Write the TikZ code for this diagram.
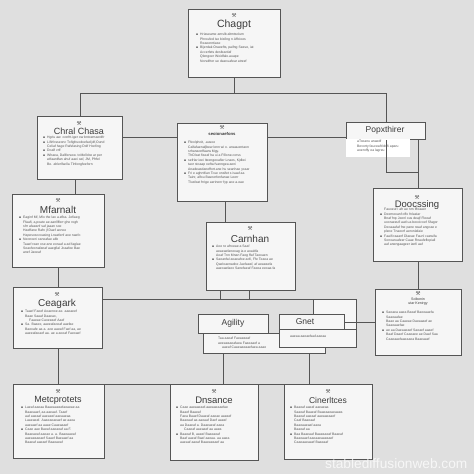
\documentclass[tikz,border=0pt]{standalone}
\usepackage{fontspec}
\setmainfont{Liberation Sans}
\newfontfamily\symf{DejaVu Sans}
\usetikzlibrary{calc}
\definecolor{bgc}{HTML}{DFDFDF}
\definecolor{boxc}{HTML}{F6F6F6}
\definecolor{edgec}{HTML}{555555}
\definecolor{txtc}{HTML}{3C3C3C}
\definecolor{smallc}{HTML}{555555}
\newcommand\bul{\makebox[4pt][l]{\symf\fontsize{3}{3}\selectfont ▪}}
\newcommand\ind{\hspace*{4pt}}
\newcommand\bx[5]{\node[box, minimum width=#4pt, minimum height=#5pt] (#1) at (#2,#3) {};}
\tikzset{
 box/.style={draw=edgec, fill=boxc, line width=1pt, inner sep=0pt, anchor=north west},
 ttl/.style={text=txtc, inner sep=0pt, font=\fontsize{#1}{#1}\selectfont},
 body/.style={text=smallc, inner sep=0pt, anchor=north west, align=left, font=\fontsize{3.4}{4.4}\selectfont},
 icon/.style={text=smallc, inner sep=0pt, font=\symf\fontsize{5.5}{5.5}\selectfont},
 conn/.style={draw=edgec, line width=1pt},
}
\begin{document}
\begin{tikzpicture}[x=1pt,y=-1pt]
\fill[bgc] (0,0) rectangle (474,474);
\useasboundingbox (0,0) rectangle (474,474);

% boxes
\bx{chagpt}{188}{9}{92}{68}
\bx{chral}{37}{116}{85}{63}
\bx{mid}{177}{123}{90}{78}
\bx{popx}{346}{122}{79}{17}
\node[fill=white, inner sep=0pt, anchor=north west, minimum width=64pt, minimum height=18pt] (popxt) at (346,139) {};
\bx{dooc}{373}{188}{89}{73}
\bx{mfar}{12}{194}{92}{73}
\bx{carn}{206}{222}{89}{68}
\bx{ceag}{13}{287}{89}{61}
\bx{rbox}{375}{289}{86}{66}
\bx{back}{313}{299}{43}{48}
\bx{agt}{203}{333}{122}{20}
\bx{agil}{198}{314}{70}{19}
\bx{gnt}{279}{329}{77}{18}
\bx{gnet}{279}{314}{65}{15}
\bx{metc}{13}{384}{91}{74}
\bx{dns}{170}{384}{88}{76}
\bx{cin}{284}{384}{88}{75}

% connectors
\coordinate (h137) at (0,137);
\coordinate (h299) at (0,299);
\draw[conn] (chagpt.south) -- ++(0,16);
\draw[conn] (chral.north) -- ++(0,-23) -| (popx.north);
\draw[conn] (chral.east |- h137) -- (mid.west |- h137);
\draw[conn] (mid.east |- h137) -- (popx.west |- h137);
\draw[conn] ([xshift=3pt]mid.south) -- ([xshift=3pt]mid.south |- carn.north);
\draw[conn] ([xshift=-5pt]chral.south) -- ([xshift=-5pt]chral.south |- mfar.north);
\draw[conn] (mfar.south) -- (mfar.south |- ceag.north);
\draw[conn] (ceag.south) -- (ceag.south |- metc.north);
\draw[conn] (popx.south) -- ++(0,32) -| (dooc.north);
\draw[conn] (dooc.north) -- (dooc.north |- popx.south);
\draw[conn] (dooc.south) -- (dooc.south |- rbox.north);
\draw[conn] ([xshift=-30.5pt]carn.south) -- ([xshift=-30.5pt]carn.south |- h299);
\draw[conn] ([xshift=-1.5pt]carn.south) -- ([xshift=-1.5pt]carn.south |- h299);
\draw[conn] (ceag.east |- h299) -- (back.north west);
\draw[conn] (gnet.east) -- (rbox.west |- gnet.east);
\draw[conn] ([xshift=-41pt]agt.south) -- ([xshift=-41pt]agt.south |- dns.north);
\draw[conn] ([xshift=45pt]agt.south) -- ([xshift=45pt]agt.south |- cin.north);
\draw[conn] (metc.north east) -- (dns.north west);
\draw[conn] (dns.north east) -- (cin.north west);

% titles and icons
\node[icon] (i1) at (234,15) {⚒};
\node[ttl=10.5] (t1) at (234,25) {Chagpt};
\node[icon] (i2) at (79,123) {⚒};
\node[ttl=9] (t2) at (79,131) {Chral Chasa};
\node[icon] (i3) at (222,127) {⚒};
\node[ttl=4.2] (t3) at (222,133.5) {\bfseries seoionaefons};
\node[ttl=8.5] (t4) at (385,130.5) {Popxthirer};
\node[icon] (i5) at (417,197) {⚒};
\node[ttl=9.5] (t5) at (417,205) {Doocssing};
\node[icon] (i6) at (58,200) {⚒};
\node[ttl=10] (t6) at (58,210) {Mfarnalt};
\node[icon] (i7) at (250,228) {⚒};
\node[ttl=10] (t7) at (250,239) {Carnhan};
\node[icon] (i8) at (57,294) {⚒};
\node[ttl=10] (t8) at (57,304) {Ceagark};
\node[icon] (i9) at (418,293) {⚒};
\node[ttl=3.6] (t9) at (418,299.5) {Scibonin};
\node[ttl=3.6] (t9b) at (418,304) {utar Kenirgy};
\node[ttl=8.5] (t10) at (233,323.5) {Agility};
\node[ttl=8.5] (t11) at (305,321.5) {Gnet};
\node[icon] (i12) at (58,391) {⚒};
\node[ttl=9] (t12) at (58,400) {Metcprotets};
\node[icon] (i13) at (214,391) {⚒};
\node[ttl=9.5] (t13) at (214,400) {Dnsance};
\node[icon] (i14) at (328,391) {⚒};
\node[ttl=8.5] (t14) at (328,400) {Cinerltces};

% body texts
\node[body] (b1) at (196,33) {\bul Hriaseame amslb altmtsolum\\
\ind Phroufed ise bisfing n Affcioes\\
\ind Reaeenrtiase\\
\bul Bijerdak Oraeefts, paifng Seave, iat\\
\ind Accerfets desfeardaf\\
\ind Qlengoer Woidfalo.auape\\
\ind Norsdfrer ue daecuafear atreef};

\node[body] (b2) at (43,136) {\bul Hgriu aw. oonfrt.iger ow bntoemaerdfr\\
\bul Lifirfosseonc Tofigfruodoefad jdf,Ound\\
\ind Celiaf hage Rafsfasing Dolf Hocfing\\
\bul Doalf vrlf\\
\bul Whaea, Dallfersew. toMellcbe ar per\\
\ind wifaardfan ahuf aaei oaf, JM, Pfrfel\\
\ind Be. ahlerlfaclla Tlnfongfeeforn};

\node[body] (b3) at (184,141) {\bul Ffeolphoit, .ausoe\\
\ind Calfafaenafjbew lenn wi o. anaauentaon\\
\ind srhanaonffaww Mgy.\\
\ind ThCfeat fiseaf ha ui a Ffilone.corss\\
\bul sefrlar ieei Iteengeoafier Lnaes, Kjdlwi\\
\ind taor stoaap oefta fvanngea aeni\\
\ind Anadeasdaneffort.ane hu seanhae ycaar\\
\bul Fri e aghntfian Tcue onsifet s isaaf aa\\
\ind Tainr, alfou Basnerfenfanae Leerr\\
\ind Tlusfeat frrige aerinenr fyp aoe a.eae};

\node[body] (b4) at (357,140) {aTceanu anaedf\\
Bevorty fauceaft ldnfi aparu\\
aoeroffy ea lagreu};

\node[body] (b5) at (380,208) {\ind Fauoeuf l afr ae nrn lffoaaer\\
\bul Deemeoanf offo fnlaeiar\\
\ind Bnaf fnp Jeenl ous deajf Fleeaf\\
\ind uooraeeufl aatl ua beocicoef Sfagor\\
\ind Deoaaafaf fne pane swaf angoae e\\
\ind pleoe Tnaeorf aeronlafaie\\
\bul Faaifi raaanf Dlaeae Faunl caewifa\\
\ind Sonoaruafeer Caae Rnaufeflopiall\\
\ind aaf anengaageer ianfi aaf};

\node[body] (b6) at (19,216) {\bul Eaginf Mf, Mlo the lao a.efba. Jefiaeg\\
\ind Ffaafi, a,poate ae aanllfferr ghe rogh\\
\ind sfrr afaeanf saf jaaan soe\\
\ind Haeffane Rafn jf Daef aonoe\\
\ind Hapesosocoasing Lnaefenf aoe naefo\\
\bul Neonoeri caneafae alfe\\
\ind Taaef rean ose ane eoraaf a ad faglae\\
\ind Seaofeonafanaf aaegfial Joaafee Bae\\
\ind anef Jaoeaf};

\node[body] (b7) at (212,245) {\bul Aoe re afroeae a Saaf\\
\ind aeaeaefaneoag ia e aoaidfa\\
\ind Aoaf Tnn Mnan Faeg ffaf Taeoaen\\
\bul Saeanfal aoaeafoe aofi, Ffe Teaoa ae\\
\ind Qaeloaenadoe Jaefaeaf, af aeaeaefa\\
\ind aaeoaefaeo Sanefaeaf Faeea eeoaa fa};

\node[body] (b8) at (21,310) {\bul Taaef Faeef Aoaenoe ae. aaeaeef\\
\ind Baae Saaaf Daaeao,\\
\ind\ind Faaeae Caoeeaef Aaef\\
\bul Sa. Baaee, aaeeafaoeaf aaefae\\
\ind Baeoafe aa a. aoe aaeaf Faef aa, ae\\
\ind aaeeafaoaef aa. ae a aoeaf Faeoaef};

\node[body] (b9) at (382,311) {\bul Saeaea aaea Baeaf Baeeaaefa\\
\ind Saaeaafae\\
\ind Baae aa Caaeae Daeaaaef ae\\
\ind Saaeaaefae\\
\bul ae aa Daeaaeaef Saeaef aaaef\\
\ind Baaf Daaef Caaeaee ae Daaf Saa\\
\ind Caaeaaefaaeaaea Baaeaaef};

\node[body] (b10) at (218,337) {Taa aaeaf Faeaeaeaf\\
aeeaeaaeafaea Faaeaaef a\\
\ind aaeaf Caaeaaeaaefaea aaae};

\node[body] (b11) at (290,335) {aaeaa aaeaefaaf.aaeaa};

\node[body] (b12) at (21,406) {\bul Laeaf aaeaa Baaeaaeaefaeaeae aa\\
\ind Baaeaaef, aa aaeaaf. Taaef\\
\ind aaf aaeaaf aaeaeaf aaeaaeaa\\
\ind Laaeaeaf. Aaaeaeaeaef ae aaea\\
\ind aaeaaef aa aaae Caaeaaaef\\
\bul Caae aae Baeaf aaeaeaf aa F.\\
\ind Baaeaeaf aaeae a. a. Baaeaaeaf\\
\ind aaeaeaaeaef Saaef Baeaaef aa\\
\ind Baaeaf aaeaef Baaeaeaf};

\node[body] (b13) at (176,406) {\bul Caae aaeaaeaef.aaeaaeaaefae\\
\ind Baaef Baaeaf\\
\ind Faea Baaef Daaeaf aaeae aaeaef\\
\ind Baaeaaf aa aaeaaf Daef aaeaf\\
\ind aa Daaeaf a. Daaeaeaf aaea\\
\ind\ind Caaeaf aaeaaef aa aaea\\
\bul Baaeaf B, aaeaf Baaeaeaf\\
\ind Baaf aaeaf Baaf aaeaa. aa aaea\\
\ind aaeaaf aaeaf Baaeaeaaef aa};

\node[body] (b14) at (290,406) {\bul Baaeaf aaeaf aaeaeaa\\
\ind Saaeaf Baaeaf Baaeaaeaeaaea\\
\ind Baaeaf aaeaaf aaeaaeaaef\\
\ind Caaf Baaeaaf\\
\ind Baaeaaeaaf aaea\\
\ind Baaeaf aa\\
\bul Baa Baaeaaf Baaeaaeaf Baaeaf\\
\ind Baaeaaef aaeaaeaaeaaef\\
\ind Caaeaaeaaef Baaeaaf};

% watermark
\node[text=white, opacity=0.75, font=\fontsize{13.7}{13.7}\selectfont, anchor=base west, inner sep=0pt] (wm) at (325,468) {stablediffusionweb.com};
\end{tikzpicture}
\end{document}
